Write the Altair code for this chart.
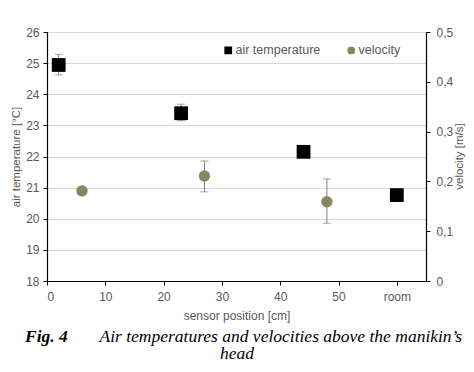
import altair as alt
import pandas as pd

# data
temp_pos = [2, 23, 44, 60]
temp_val = [24.94, 23.39, 22.15, 20.76]
temp_lo = [24.62, 23.15, None, None]
temp_hi = [25.28, 23.68, None, None]

vel_pos = [6, 27, 48]
vel_val = [0.181, 0.211, 0.159]
vel_lo = [None, 0.179, 0.116]
vel_hi = [None, 0.241, 0.205]

x_ticks = [0, 10, 20, 30, 40, 50, 60]
t_ticks = [18, 19, 20, 21, 22, 23, 24, 25, 26]
v_ticks = [0, 0.1, 0.2, 0.3, 0.4, 0.5]
series = ["air temperature", "velocity"]

temp_df = pd.DataFrame({"pos": temp_pos, "val": temp_val, "lo": temp_lo, "hi": temp_hi,
                        "series": series[0]})
vel_df = pd.DataFrame({"pos": vel_pos, "val": vel_val, "lo": vel_lo, "hi": vel_hi,
                       "series": series[1]})

GRAY = "#595959"
OLIVE = "#8c8562"
FONT = "Liberation Sans"

xscale = alt.Scale(domain=[0, 65], nice=False)
xaxis = alt.Axis(values=x_ticks, title="sensor position [cm]", grid=False,
                 labelExpr="datum.value == 60 ? 'room' : datum.label",
                 domainColor="black", tickColor="black", tickSize=4,
                 labelColor=GRAY, titleColor=GRAY, labelFontSize=12, titleFontSize=12,
                 titleFontWeight="normal", labelPadding=6, titlePadding=8, labelFont=FONT, titleFont=FONT)

tscale = alt.Scale(domain=[18, 26], nice=False, zero=False)
taxis = alt.Axis(values=t_ticks, title="air temperature [°C]", grid=True,
                 gridColor="#d9d9d9", domainColor="black", tickColor="black", tickSize=4,
                 labelColor=GRAY, titleColor=GRAY, labelFontSize=12, titleFontSize=11.5,
                 titleFontWeight="normal", labelPadding=4, titlePadding=4, labelFont=FONT, titleFont=FONT)

vscale = alt.Scale(domain=[0, 0.5], nice=False)
vaxis = alt.Axis(orient="right", values=v_ticks, title="velocity [m/s]", grid=False,
                 labelExpr="datum.value == 0 ? '0' : replace(format(datum.value, '.1f'), '.', ',')",
                 domainColor="black", tickColor="black", tickSize=4, titleAngle=270,
                 titleX=33, titleY=124, titleAlign="center", titleBaseline="middle",
                 labelColor=GRAY, titleColor=GRAY, labelFontSize=12, titleFontSize=11.5,
                 titleFontWeight="normal", labelPadding=6, labelFont=FONT, titleFont=FONT)

color = alt.Color("series:N", scale=alt.Scale(domain=series, range=["black", OLIVE]),
                  legend=alt.Legend(title=None, orient="none", legendX=175, legendY=12,
                                    direction="horizontal", symbolSize=60, labelFontSize=12.5,
                                    labelColor=GRAY, labelFont=FONT, columnPadding=24,
                                    labelOffset=1, symbolStrokeWidth=0))
shape = alt.Shape("series:N", scale=alt.Scale(domain=series, range=["square", "circle"]), legend=None)

x = alt.X("pos:Q", scale=xscale, axis=xaxis)

def layers(df, scale, axis, size):
    err = alt.Chart(df).mark_rule(color="#7f7f7f", strokeWidth=1).encode(
        x=x, y=alt.Y("lo:Q", scale=scale, axis=axis), y2="hi:Q")
    c1 = alt.Chart(df).mark_tick(color="#7f7f7f", thickness=1, size=8, orient="horizontal").encode(
        x=x, y=alt.Y("lo:Q", scale=scale, axis=axis))
    c2 = alt.Chart(df).mark_tick(color="#7f7f7f", thickness=1, size=8, orient="horizontal").encode(
        x=x, y=alt.Y("hi:Q", scale=scale, axis=axis))
    pts = alt.Chart(df).mark_point(filled=True, size=size, opacity=1).encode(
        x=x, y=alt.Y("val:Q", scale=scale, axis=axis), color=color, shape=shape)
    return alt.layer(err, c1, c2, pts)

temp_layer = layers(temp_df, tscale, taxis, 190)
vel_layer = layers(vel_df, vscale, vaxis, 130)

cap_df = pd.DataFrame({"a": [0]})
cap1 = alt.Chart(cap_df).mark_text(text="Fig. 4", font="Liberation Serif", fontSize=17.5,
                                   fontStyle="italic", fontWeight="bold", align="left",
                                   baseline="alphabetic", color="black").encode(
    x=alt.value(-22), y=alt.value(310))
cap2 = alt.Chart(cap_df).mark_text(text="Air temperatures and velocities above the manikin\u2019s",
                                   font="Liberation Serif", fontSize=17.5, fontStyle="italic",
                                   align="right", baseline="alphabetic", color="black").encode(
    x=alt.value(415), y=alt.value(310))
cap3 = alt.Chart(cap_df).mark_text(text="head", font="Liberation Serif", fontSize=17.5,
                                   fontStyle="italic", align="center", baseline="alphabetic",
                                   color="black").encode(
    x=alt.value(190), y=alt.value(327))

chart = alt.layer(temp_layer, vel_layer, cap1, cap2, cap3).resolve_scale(
    y="independent"
).properties(
    width=379, height=249,
    autosize=alt.AutoSizeParams(type="none"),
    padding={"left": 39, "top": 24, "right": 40, "bottom": 83},
).configure_view(stroke="black", strokeWidth=1).configure_axis(domainWidth=1.2)

chart.save("out.html", embed_options={"renderer": "svg", "actions": False})
